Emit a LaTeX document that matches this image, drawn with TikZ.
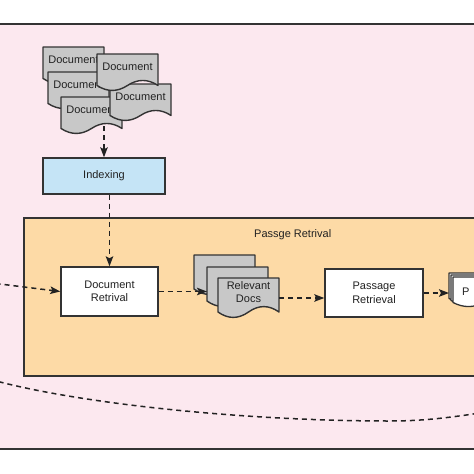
\documentclass[tikz,border=0pt]{standalone}
\usepackage{fontspec}
\setmainfont{Liberation Sans}
\usetikzlibrary{arrows.meta}
\definecolor{pinkbg}{HTML}{FCE8EF}
\definecolor{peach}{HTML}{FDDAA6}
\definecolor{docgray}{HTML}{C8C8C8}
\definecolor{idxblue}{HTML}{C5E4F6}
\definecolor{edge}{HTML}{333333}
\definecolor{txt}{HTML}{222222}
\tikzset{
  box/.style={draw=edge, line width=1.4pt, inner sep=0pt, align=center, text=txt,
    font=\fontsize{11}{13.5}\selectfont},
  docsty/.style={draw=edge, fill=docgray, line width=1.4pt, line join=round},
  docwhite/.style={draw=edge, fill=white, line width=1.3pt, line join=round},
  docarea/.style={inner sep=0pt, outer sep=0pt},
  doctext/.style={inner sep=0pt, align=center, text=txt, font=\fontsize{11}{13.5}\selectfont},
  flow/.style={draw=txt, line width=1.5pt, dash pattern=on 5pt off 4pt,
    -{Stealth[length=10pt,width=7.5pt,inset=2pt]}},
}
% #1 name, #2 x, #3 y (top-left), #4 width, #5 height, #6 text, #7 style
\newcommand\docshape[7]{%
  \path[#7] ({#2},{#3}) -- ({#2+#4},{#3}) -- ({#2+#4},{#3+0.85*#5})
   .. controls ({#2+0.8333*#4},{#3+0.67*#5}) and ({#2+0.6667*#4},{#3+0.67*#5}) .. ({#2+0.5*#4},{#3+0.85*#5})
   .. controls ({#2+0.3333*#4},{#3+1.03*#5}) and ({#2+0.1667*#4},{#3+1.03*#5}) .. ({#2},{#3+0.85*#5}) -- cycle;
  \node[docarea, minimum width=#4, minimum height=#5, anchor=north west] (#1) at ({#2},{#3}) {};
  \node[doctext] (#1-t) at ({#2+0.5*#4},{#3+0.35*#5}) {#6};
}
\begin{document}
\begin{tikzpicture}[x=1pt, y=-1pt]
\useasboundingbox (0,0) rectangle (474,474);
\clip (0,0) rectangle (474,474);
% background regions
\fill[white] (0,0) rectangle (474,474);
\path[fill=pinkbg] (-5,24) rectangle (480,449);
\draw[edge, line width=1.4pt] (-5,24) -- (480,24);
\draw[edge, line width=1.4pt] (-5,449) -- (480,449);
\path[fill=peach, draw=edge, line width=1.3pt] (24,218) rectangle (480,376);
\node[doctext, anchor=west] (plabel) at (254,235) {Passge Retrival};
% document cluster
\docshape{d1}{43}{47}{61}{37}{Document}{docsty}
\docshape{d3}{48}{72}{61}{37}{Document}{docsty}
\docshape{d5}{61}{97}{61}{37}{Document}{docsty}
\docshape{d4}{110}{84}{61}{37}{Document}{docsty}
\docshape{d2}{97}{54}{61}{37}{Document}{docsty}
% boxes
\node[box, fill=idxblue, minimum width=122, minimum height=36] (idx) at (104,176) {Indexing};
\node[box, fill=white, minimum width=97, minimum height=49] (docret) at (109.5,291.5) {Document\\Retrival};
\node[box, fill=white, minimum width=98, minimum height=48] (passret) at (374,293) {Passage\\Retrieval};
% relevant docs stack
\docshape{r1}{194}{255}{61}{40}{}{docsty}
\docshape{r2}{207}{267}{61}{40}{}{docsty}
\docshape{r3}{218}{278}{61}{40}{Relevant\\Docs}{docsty}
% passages stack
\docshape{p1}{449}{273}{62}{30}{}{docwhite}
\docshape{p2}{451}{275}{62}{30}{}{docwhite}
\docshape{p3}{453}{277}{62}{30}{}{docwhite}
\node[doctext, anchor=west] (p3-label) at (462,292) {P};
% connectors
\draw[flow] ([yshift=8pt]d5.south -| idx.north) -- (idx.north);
\draw[flow] (idx.south -| docret.north) -- (docret.north);
\draw[flow] (docret.east) -- (docret.east -| r2.west);
\draw[flow] (r3.east) -- (r3.east -| passret.west);
\draw[flow] (passret.east) -- (passret.east -| p1.west);
\draw[flow] (p3.east) .. controls (580,300) and (560,402) .. (500,410)
  .. controls (460,416) and (430,421) .. (390,421)
  .. controls (250,421) and (90,405) .. (0,382)
  .. controls (-40,372) and (-40,278) .. (0,284) -- (docret.west);
\end{tikzpicture}
\end{document}
